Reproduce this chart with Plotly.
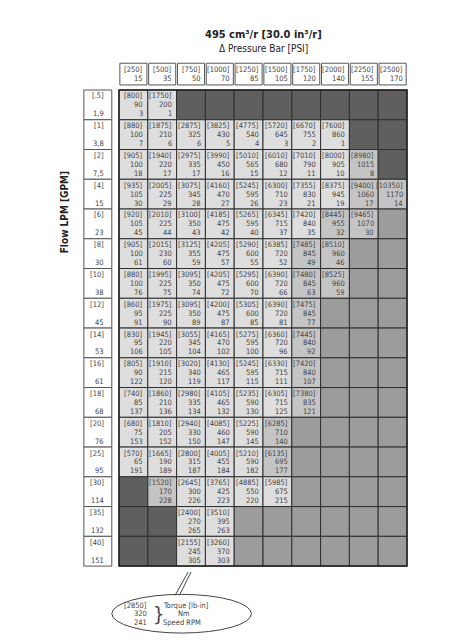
import plotly.graph_objects as go

psi = ["[250]", "[500]", "[750]", "[1000]", "[1250]", "[1500]", "[1750]", "[2000]", "[2250]", "[2500]"]
bar = ["15", "35", "50", "70", "85", "105", "120", "140", "155", "170"]
gpm = ["[.5]", "[1]", "[2]", "[4]", "[6]", "[8]", "[10]", "[12]", "[14]", "[16]", "[18]", "[20]", "[25]", "[30]", "[35]", "[40]"]
lpm = ["1,9", "3,8", "7,5", "15", "23", "30", "38", "45", "53", "61", "68", "76", "95", "114", "132", "151"]

# first pressure column with data for each flow row
start = [0, 0, 0, 0, 0, 0, 0, 0, 0, 0, 0, 0, 0, 1, 2, 2]
torque_lbin = [
    [800, 1750],
    [880, 1875, 2875, 3825, 4775, 5720, 6670, 7600],
    [905, 1940, 2975, 3990, 5010, 6010, 7010, 8000, 8980],
    [935, 2005, 3075, 4160, 5245, 6300, 7355, 8375, 9400, 10350],
    [920, 2010, 3100, 4185, 5265, 6345, 7420, 8445, 9465],
    [905, 2015, 3125, 4205, 5290, 6385, 7485, 8510],
    [880, 1995, 3095, 4205, 5295, 6390, 7480, 8525],
    [860, 1975, 3095, 4200, 5305, 6390, 7475],
    [830, 1945, 3055, 4165, 5275, 6360, 7445],
    [805, 1910, 3020, 4130, 5245, 6330, 7420],
    [740, 1860, 2980, 4105, 5235, 6305, 7380],
    [680, 1810, 2940, 4085, 5225, 6285],
    [570, 1665, 2800, 4005, 5210, 6135],
    [1520, 2645, 3765, 4885, 5985],
    [2400, 3510],
    [2155, 3260],
]
torque_nm = [
    [90, 200],
    [100, 210, 325, 430, 540, 645, 755, 860],
    [100, 220, 335, 450, 565, 680, 790, 905, 1015],
    [105, 225, 345, 470, 595, 710, 830, 945, 1060, 1170],
    [105, 225, 350, 475, 595, 715, 840, 955, 1070],
    [100, 230, 355, 475, 600, 720, 845, 960],
    [100, 225, 350, 475, 600, 720, 845, 960],
    [95, 225, 350, 475, 600, 720, 845],
    [95, 220, 345, 470, 595, 720, 840],
    [90, 215, 340, 465, 595, 715, 840],
    [85, 210, 335, 465, 590, 715, 835],
    [75, 205, 330, 460, 590, 710],
    [65, 190, 315, 455, 590, 695],
    [170, 300, 425, 550, 675],
    [270, 395],
    [245, 370],
]
speed_rpm = [
    [3, 1],
    [7, 6, 6, 5, 4, 3, 2, 1],
    [18, 17, 17, 16, 15, 12, 11, 10, 8],
    [30, 29, 28, 27, 26, 23, 21, 19, 17, 14],
    [45, 44, 43, 42, 40, 37, 35, 32, 30],
    [61, 60, 59, 57, 55, 52, 49, 46],
    [76, 75, 74, 72, 70, 66, 63, 59],
    [91, 90, 89, 87, 85, 81, 77],
    [106, 105, 104, 102, 100, 96, 92],
    [122, 120, 119, 117, 115, 111, 107],
    [137, 136, 134, 132, 130, 125, 121],
    [153, 152, 150, 147, 145, 140],
    [191, 189, 187, 184, 182, 177],
    [228, 226, 223, 220, 215],
    [265, 263],
    [305, 303],
]
# intermittent-duty cells (row, col)
intermittent = [(2, 8), (3, 8), (3, 9), (4, 7), (4, 8), (5, 6), (5, 7), (6, 6), (6, 7),
                (7, 6), (8, 6), (9, 6), (10, 6), (11, 5), (12, 5), (13, 1)]
# not-recommended cells (row, col)
blocked = [(0, c) for c in range(2, 10)] + [(1, 8), (1, 9), (2, 9), (13, 0), (14, 0), (14, 1), (15, 0), (15, 1)]

FONT = "Liberation Sans Narrow, DejaVu Sans Condensed, Arial Narrow, sans-serif"
TXT = "#444"
fig = go.Figure()
shapes, ann = [], []

def rect(x0, y0, x1, y1, fill, lc="#333", lw=1):
    shapes.append(dict(type="rect", x0=x0, y0=y0, x1=x1, y1=y1, fillcolor=fill,
                       line=dict(color=lc, width=lw), layer="below"))

def txt(x, y, s, size=7.5, anchor="right", **kw):
    ann.append(dict(x=x, y=y, text=s, showarrow=False, xanchor=anchor, yanchor="middle",
                    font=dict(family=FONT, size=size, color=TXT), **kw))

# header row
for c in range(10):
    rect(c + 0.03, -0.9, c + 0.97, -0.17, "white", "#555")
    txt(c + 0.92, -0.69, psi[c])
    txt(c + 0.92, -0.4, bar[c])

# flow labels
for r in range(16):
    rect(-1.22, r, -0.25, r + 1, "white", "#555")
    txt(-0.45, r + 0.2, gpm[r])
    txt(-0.45, r + 0.8, lpm[r])

# grid cells
for r in range(16):
    for c in range(10):
        i = c - start[r]
        if (r, c) in blocked:
            fill = "#5f5f5f"
        elif 0 <= i < len(torque_lbin[r]):
            fill = "#c4c4c4" if (r, c) in intermittent else "#dedede"
        else:
            fill = "#9c9c9c"
        rect(c, r, c + 1, r + 1, fill, "#2e2e2e", 1)
        if 0 <= i < len(torque_lbin[r]):
            txt(c + 0.92, r + 0.2, f"[{torque_lbin[r][i]}]")
            txt(c + 0.92, r + 0.5, str(torque_nm[r][i]))
            txt(c + 0.92, r + 0.8, str(speed_rpm[r][i]))
shapes.append(dict(type="rect", x0=0, y0=0, x1=10, y1=16, line=dict(color="#222", width=1.5)))

# titles
ann.append(dict(x=5, y=-1.85, text="<b>495 cm³/r [30.0 in³/r]</b>", showarrow=False,
                font=dict(family=FONT, size=11, color="#222")))
ann.append(dict(x=5, y=-1.4, text="Δ Pressure Bar [PSI]", showarrow=False,
                font=dict(family=FONT, size=10, color="#222")))
ann.append(dict(x=-1.9, y=4.1, text="<b>Flow LPM [GPM]</b>", showarrow=False, textangle=-90,
                font=dict(family=FONT, size=10, color="#222")))

# legend callout
shapes.append(dict(type="circle", x0=-0.25, y0=16.95, x1=4.6, y1=18.25, line=dict(color="#444", width=1)))
shapes.append(dict(type="line", x0=2.4, y0=16.2, x1=1.95, y1=16.98, line=dict(color="#444", width=1)))
shapes.append(dict(type="line", x0=2.5, y0=16.2, x1=2.1, y1=16.98, line=dict(color="#444", width=1)))
txt(1.05, 17.32, "[2850]")
txt(1.05, 17.6, "320")
txt(1.05, 17.88, "241")
txt(1.1, 17.6, "}", size=20, anchor="left")
txt(1.45, 17.32, "Torque [lb-in]", anchor="left")
txt(2.55, 17.6, "Nm", anchor="right")
txt(1.45, 17.88, "Speed RPM", anchor="left")

fig.update_layout(
    width=474, height=642, margin=dict(l=0, r=0, t=0, b=0),
    plot_bgcolor="white", paper_bgcolor="white", shapes=shapes, annotations=ann,
    xaxis=dict(range=[-3.854, 12.604], visible=False, fixedrange=True),
    yaxis=dict(range=[18.82, -2.756], visible=False, fixedrange=True),
    showlegend=False,
)
fig.write_html("out.html")
